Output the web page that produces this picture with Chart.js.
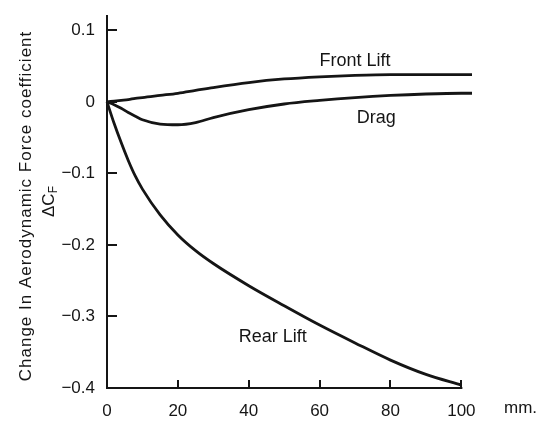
<!DOCTYPE html>
<html>
<head>
<meta charset="utf-8">
<script src="https://cdn.jsdelivr.net/npm/chart.js@4"></script>
<style>
html,body{margin:0;padding:0;background:#fff;}
#wrap{width:560px;height:426px;}
</style>
</head>
<body>
<div id="wrap"><canvas id="c" width="560" height="426"></canvas></div>
<script>
const xValues   = [0, 2, 4, 6, 8, 10, 15, 20, 25, 30, 40, 50, 60, 70, 80, 90, 100, 103];
const frontLift = [0, 0.001, 0.002, 0.003, 0.005, 0.006, 0.009, 0.012, 0.016, 0.020, 0.027, 0.032, 0.035, 0.037, 0.038, 0.038, 0.038, 0.038];
const drag      = [0, -0.004, -0.009, -0.015, -0.020, -0.025, -0.031, -0.032, -0.029, -0.022, -0.011, -0.003, 0.002, 0.006, 0.009, 0.011, 0.012, 0.012];
const rearLift  = [0, -0.030, -0.057, -0.082, -0.104, -0.122, -0.158, -0.186, -0.208, -0.226, -0.257, -0.285, -0.312, -0.337, -0.361, -0.381, -0.396, null];
const seriesNames = ["Front Lift", "Drag", "Rear Lift"];
const xTickValues = [0, 20, 40, 60, 80, 100];
const xTickLabels = ["0", "20", "40", "60", "80", "100"];
const yTickValues = [-0.4, -0.3, -0.2, -0.1, 0, 0.1];
const yTickLabels = ["\u22120.4", "\u22120.3", "\u22120.2", "\u22120.1", "0", "0.1"];
const yTitle = "Change In Aerodynamic Force coefficient";
const xUnit = "mm.";

const FONT = "'Liberation Sans', Arial, Helvetica, sans-serif";
const INK = '#151515';

function pts(ys){ return xValues.map((x,i)=>({x:x,y:ys[i]})); }

// label anchors in data coordinates (x, y)
const labelAnchors = [[70, 0.057], [76, -0.022], [46.8, -0.329]];

const decor = {
  id: 'decor',
  afterDraw(chart){
    const ctx = chart.ctx, xs = chart.scales.x, ys = chart.scales.y, a = chart.chartArea;
    ctx.save();
    ctx.strokeStyle = INK; ctx.lineWidth = 2;
    // x axis line (0..100)
    const x0 = xs.getPixelForValue(xTickValues[0]);
    const x1 = xs.getPixelForValue(xTickValues[xTickValues.length-1]);
    ctx.beginPath(); ctx.moveTo(x0 - 1, a.bottom); ctx.lineTo(x1 + 1, a.bottom); ctx.stroke();
    // inward tick marks
    yTickValues.forEach(v=>{
      const py = Math.round(ys.getPixelForValue(v));
      ctx.beginPath(); ctx.moveTo(a.left, py); ctx.lineTo(a.left + 10, py); ctx.stroke();
    });
    xTickValues.forEach(v=>{
      const px = Math.round(xs.getPixelForValue(v));
      ctx.beginPath(); ctx.moveTo(px, a.bottom); ctx.lineTo(px, a.bottom - 8); ctx.stroke();
    });
    ctx.fillStyle = INK;
    // curve labels
    ctx.font = '18px ' + FONT;
    ctx.textAlign = 'center'; ctx.textBaseline = 'middle';
    seriesNames.forEach((n,i)=>{
      ctx.fillText(n, xs.getPixelForValue(labelAnchors[i][0]), ys.getPixelForValue(labelAnchors[i][1]));
    });
    // x unit
    ctx.font = '17px ' + FONT;
    ctx.textAlign = 'left'; ctx.textBaseline = 'middle';
    ctx.fillText(xUnit, 504, 408);
    // y title
    ctx.save();
    ctx.translate(26, 206);
    ctx.rotate(-Math.PI/2);
    ctx.font = '17px ' + FONT;
    ctx.letterSpacing = '1px';
    ctx.textAlign = 'center'; ctx.textBaseline = 'middle';
    ctx.fillText(yTitle, 0, 0);
    ctx.letterSpacing = '0px';
    ctx.restore();
    // delta C_F
    ctx.save();
    ctx.translate(49, 204);
    ctx.rotate(-Math.PI/2);
    ctx.font = '17px ' + FONT;
    ctx.textAlign = 'left'; ctx.textBaseline = 'middle';
    const w = ctx.measureText('\u0394C').width;
    ctx.fillText('\u0394C', -13, 0);
    ctx.font = '12px ' + FONT;
    ctx.fillText('F', -13 + w, 5);
    ctx.restore();
    ctx.restore();
  }
};

new Chart(document.getElementById('c'), {
  type: 'line',
  data: {
    datasets: [
      {label: seriesNames[0], data: pts(frontLift)},
      {label: seriesNames[1], data: pts(drag)},
      {label: seriesNames[2], data: pts(rearLift)}
    ].map(d=>Object.assign(d, {
      borderColor: INK, borderWidth: 2.8, pointRadius: 0, fill: false,
      cubicInterpolationMode: 'monotone', clip: false, spanGaps: false
    }))
  },
  options: {
    responsive: false,
    animation: false,
    layout: {padding: {left: 0, right: 88, top: 16, bottom: 0}},
    plugins: {legend: {display: false}, tooltip: {enabled: false}},
    scales: {
      x: {
        type: 'linear', min: 0, max: 103,
        afterBuildTicks: s => { s.ticks = xTickValues.map(v=>({value:v})); },
        afterFit: s => { s.height = 38; s.paddingLeft = 0; s.paddingRight = 0; },
        grid: {display: false, drawTicks: false},
        border: {display: false},
        ticks: {
          color: INK, padding: 13, maxRotation: 0, autoSkip: false,
          font: {family: FONT, size: 17},
          callback: (v) => xTickLabels[xTickValues.indexOf(v)]
        }
      },
      y: {
        type: 'linear', min: -0.4, max: 0.12,
        afterBuildTicks: s => { s.ticks = yTickValues.map(v=>({value:v})); },
        afterFit: s => { s.width = 107; s.paddingTop = 0; s.paddingBottom = 0; },
        grid: {display: false, drawTicks: false},
        border: {display: true, color: INK, width: 2},
        ticks: {
          color: INK, padding: 12, autoSkip: false,
          font: {family: FONT, size: 17},
          callback: (v) => yTickLabels[yTickValues.findIndex(t=>Math.abs(t-v)<1e-9)]
        }
      }
    }
  },
  plugins: [decor]
});
</script>
</body>
</html>
